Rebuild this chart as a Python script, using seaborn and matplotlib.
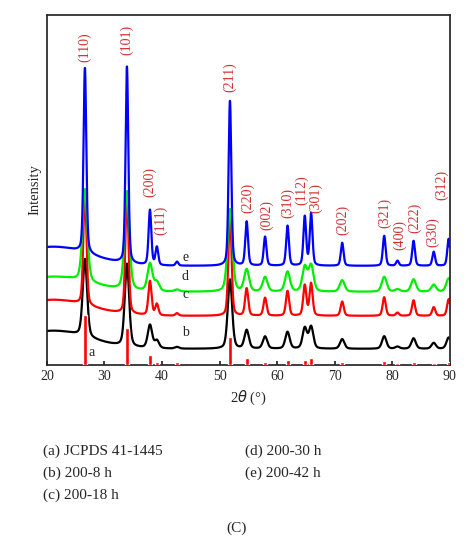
import numpy as np
import pandas as pd
import matplotlib
matplotlib.use("Agg")
import matplotlib.pyplot as plt
import seaborn as sns

sns.set_theme(style="ticks")
plt.rcParams['font.family'] = ['Liberation Serif', 'DejaVu Serif']

# reflections (2theta, degrees) and hkl labels
peak_pos = [26.6, 33.9, 37.9, 39.1, 42.6, 51.8, 54.7, 57.9, 61.8, 64.8, 65.9, 71.3, 78.6, 80.9, 83.7, 87.2, 89.8]
hkl = ["(110)", "(101)", "(200)", "(111)", None, "(211)", "(220)", "(002)", "(310)", "(112)", "(301)",
       "(202)", "(321)", "(400)", "(222)", "(330)", "(312)"]
label_x = [26.6, 33.9, 37.9, 39.7, None, 51.8, 54.9, 58.2, 61.8, 64.3, 66.7, 71.4, 78.6, 81.2, 83.8, 87.0, 88.6]
label_y = [303, 310, 168, 130, None, 273, 152, 135, 147, 160, 152, 130, 137, 115, 132, 118, 165]
# JCPDS 41-1445 stick heights
stick_h = [50, 37, 10, 3, 3, 28, 7, 3, 5, 5, 7, 3, 4, 2, 3, 2, 3]
# sample e peak heights above background
peak_h_e = [185, 197, 55, 18, 4, 165, 44, 29, 40, 49, 52, 23, 30, 5, 25, 14, 27]

series = ["b", "c", "d", "e"]
colors = ["black", "red", "#00ee00", "blue"]
base_level = [16, 49, 73, 99]
hump_amp = [18, 16, 15, 19]
peak_scale = [0.42, 0.62, 0.5, 1.0]
peak_width = [0.45, 0.32, 0.5, 0.28]
letter_x = [44.0, 44.0, 44.0, 44.0]
letter_y = [32, 70, 88, 107]

x = np.linspace(20, 90, 3000)
fig = plt.figure(figsize=(4.74, 5.52), dpi=100)
ax = fig.add_axes([0.099, 0.339, 0.85, 0.634])

for s, c, b0, ha, sc, w in zip(series, colors, base_level, hump_amp, peak_scale, peak_width):
    y = b0 + ha * np.exp(-((x - 21) / 9.0) ** 2)
    for p, h in zip(peak_pos, peak_h_e):
        prof = 0.65 * np.exp(-np.log(2) * ((x - p) / w) ** 2) + 0.35 / (1 + ((x - p) / w) ** 2)
        y = y + sc * h * prof
    df = pd.DataFrame({"x": x, "y": y})
    sns.lineplot(data=df, x="x", y="y", color=c, lw=1.6, ax=ax)

ax.bar(peak_pos, stick_h, width=0.7, bottom=0, color="red", zorder=5)

for t, lx, ly in zip(hkl, label_x, label_y):
    if t:
        ax.text(lx, ly, t, rotation=90, color="#d03030", fontsize=10, ha="center", va="bottom")
for s, lx, ly in zip(series, letter_x, letter_y):
    ax.text(lx, ly, s, fontsize=10, ha="center", va="center")
ax.text(27.8, 12, "a", fontsize=10, ha="center", va="center")

ax.set_xlim(20, 90)
ax.set_ylim(0, 350)
ax.set_xticks(range(20, 91, 10))
ax.set_yticks([])
ax.tick_params(axis="x", labelsize=10, direction="in", length=3)
ax.set_xlabel(r"2$\theta$ (°)", fontsize=10.5)
ax.set_ylabel("Intensity", fontsize=10.5)

fs = 11
fig.text(43/474, 1-451/552, "(a) JCPDS 41-1445", fontsize=fs, va="center")
fig.text(43/474, 1-473/552, "(b) 200-8 h", fontsize=fs, va="center")
fig.text(43/474, 1-495/552, "(c) 200-18 h", fontsize=fs, va="center")
fig.text(245/474, 1-451/552, "(d) 200-30 h", fontsize=fs, va="center")
fig.text(245/474, 1-473/552, "(e) 200-42 h", fontsize=fs, va="center")
fig.text(0.5, 1-528/552, "(C)", fontsize=fs, ha="center", va="center")

fig.savefig("out.png", dpi=100)
